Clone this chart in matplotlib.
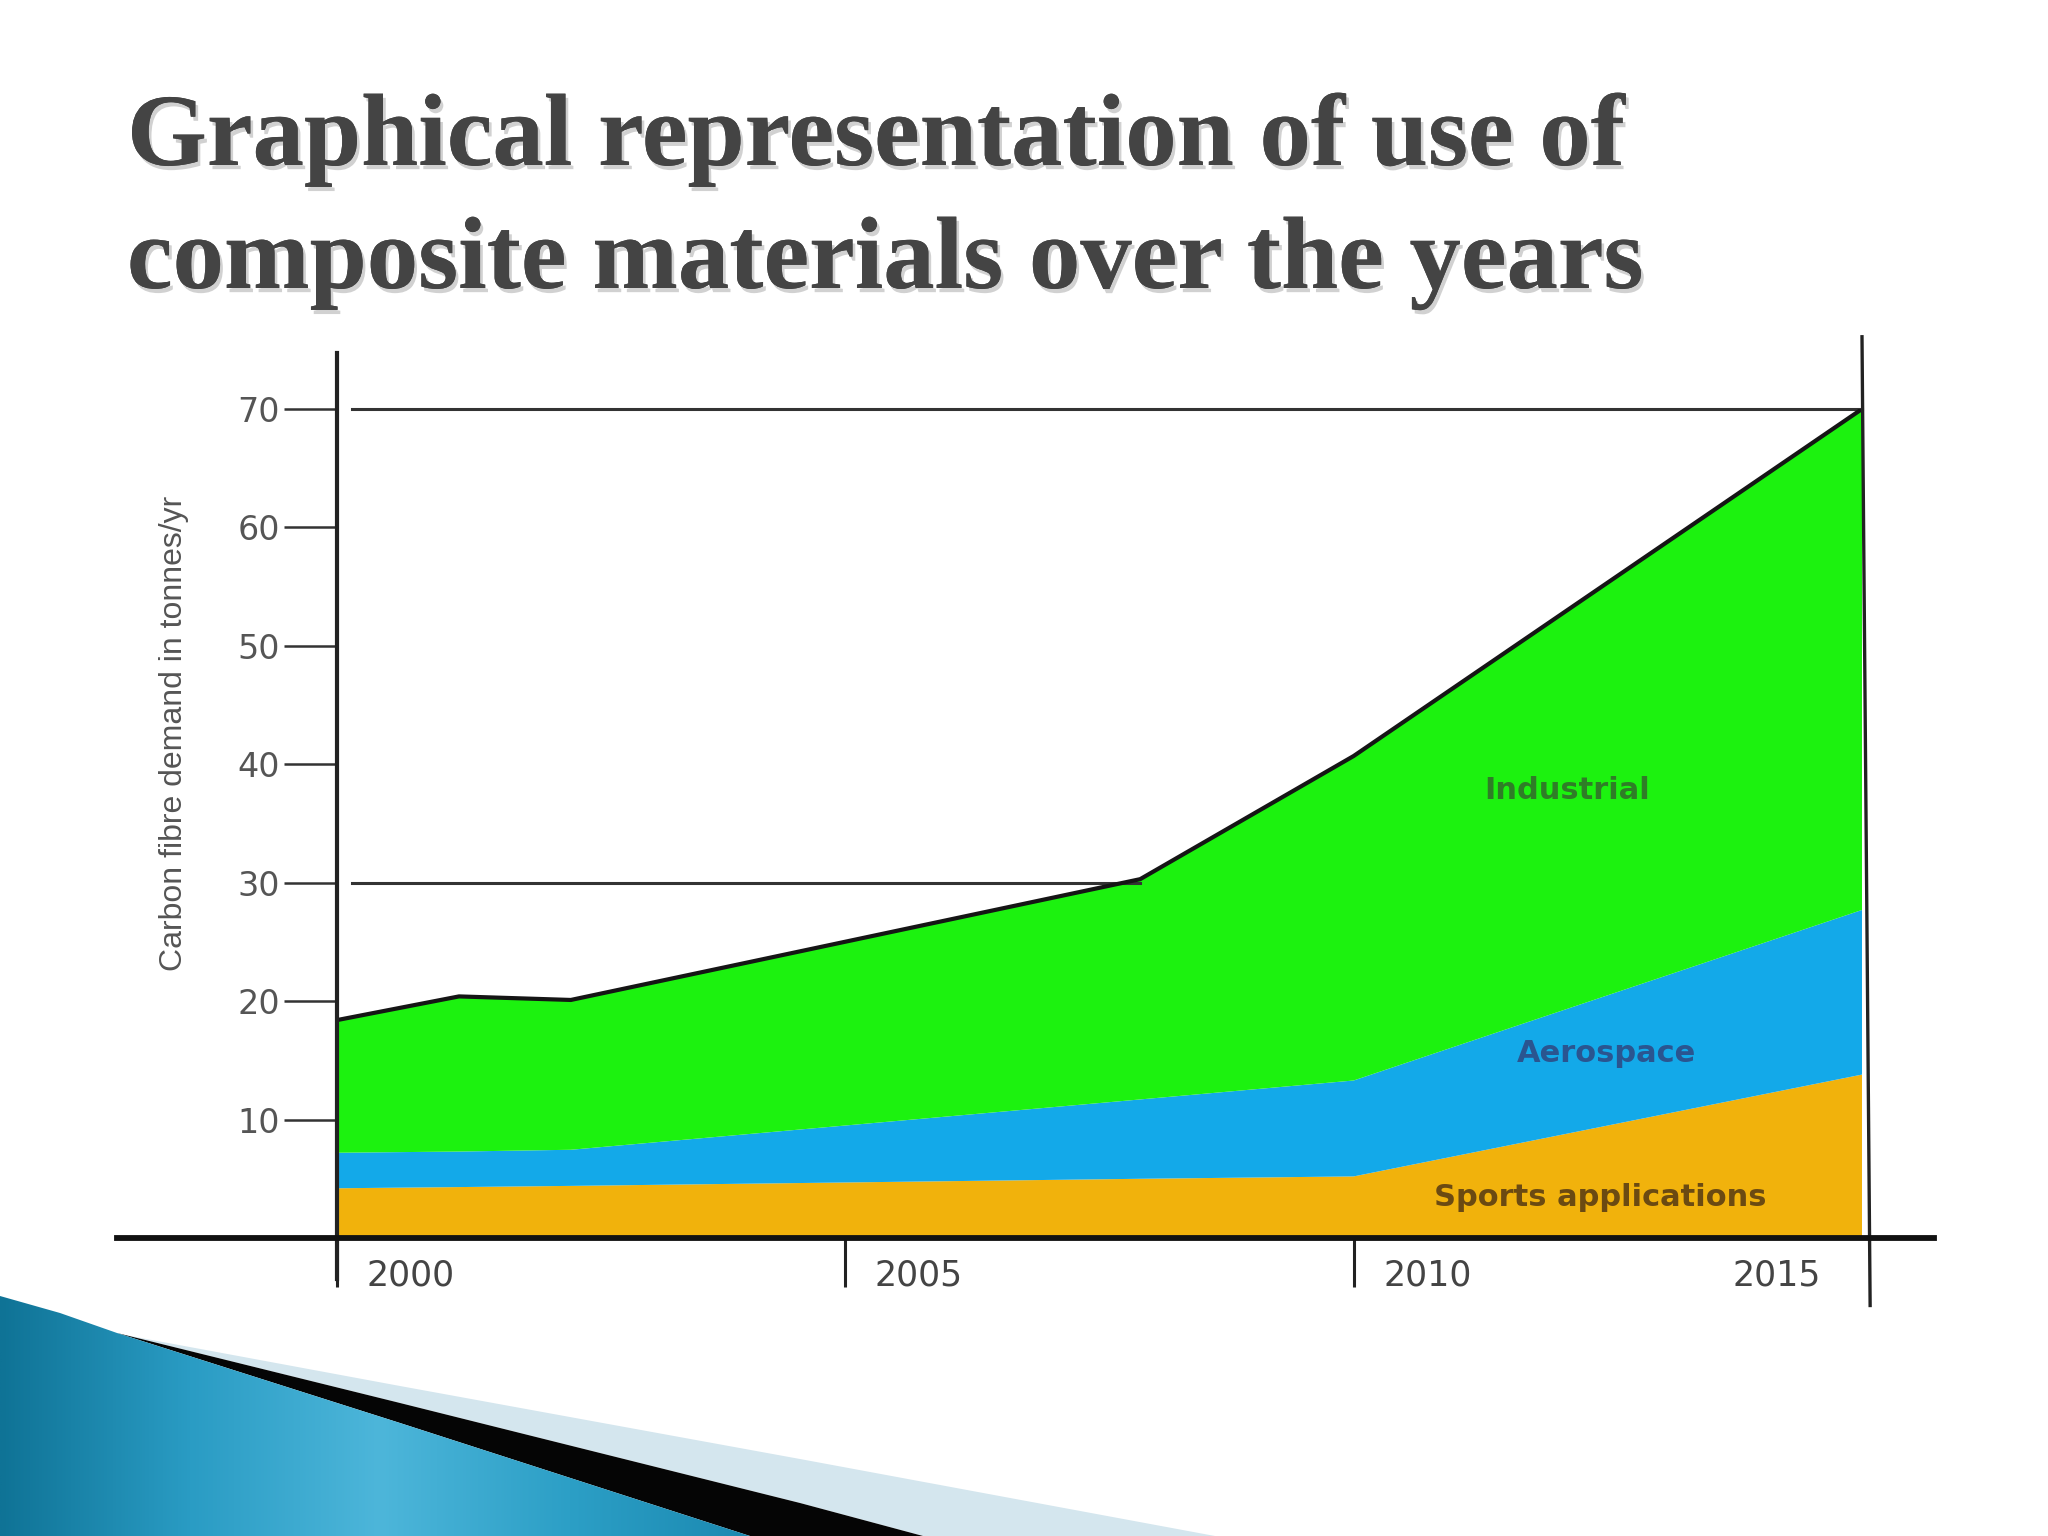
import numpy as np
import matplotlib
matplotlib.use("Agg")
import matplotlib.pyplot as plt
import matplotlib.patheffects as pe
from matplotlib.patches import Polygon
from matplotlib.colors import LinearSegmentedColormap

# ---------------- data ----------------
years = [2000, 2001.2, 2002.3, 2007.9, 2010, 2015]
sports = [4.2, 4.3, 4.4, 5.0, 5.2, 13.8]
aerospace = [3.0, 3.0, 3.05, 6.7, 8.1, 13.9]
industrial = [11.2, 13.1, 12.65, 18.6, 27.4, 42.3]
total = [s + a + i for s, a, i in zip(sports, aerospace, industrial)]

y_ticks = [10, 20, 30, 40, 50, 60, 70]
x_ticks = [2000, 2005, 2010]
x_labels = ["2000", "2005", "2010", "2015"]
x_label_years = [2000, 2005, 2010, 2015]
series_names = ["Sports applications", "Aerospace", "Industrial"]
colors = ["#F1B20C", "#13A9E9", "#1CF20F"]
label_colors = ["#6b4a12", "#2a5590", "#2f7d27"]
label_pos = [(2012.43, 3.4), (2012.49, 15.6), (2012.1, 37.8)]
ref_levels = [70, 30]
ref_ends = [2015, 2007.9]

title_lines = ["Graphical representation of use of",
               "composite materials over the years"]
ylabel = "Carbon fibre demand in tonnes/yr"

W, H = 2048, 1536
fig = plt.figure(figsize=(W / 100, H / 100), dpi=100)
fig.patch.set_facecolor("white")

# ---------------- background decoration ----------------
bg = fig.add_axes([0, 0, 1, 1])
bg.set_xlim(0, W)
bg.set_ylim(H, 0)
bg.axis("off")
bg.set_zorder(0)

blue_poly = [(0, 1296), (60, 1313), (117, 1333), (400, 1423), (750, 1536), (0, 1536)]
black_poly = [(117, 1333), (400, 1403), (800, 1503), (923, 1536), (750, 1536), (400, 1423)]
light_poly = [(125, 1335), (400, 1386), (800, 1459), (1215, 1536), (923, 1536),
              (800, 1503), (400, 1403), (117, 1333)]

light = Polygon(light_poly, closed=True, facecolor="#d4e6ee", edgecolor="none")
bg.add_patch(light)
blk = Polygon(black_poly, closed=True, facecolor="#050505", edgecolor="none")
bg.add_patch(blk)

cmap = LinearSegmentedColormap.from_list(
    "swoosh", ["#0f7396", "#2a9cc4", "#4db6da", "#2c9fc6", "#1a88b0"])
grad = np.linspace(0, 1, 512)[None, :]
grad = np.repeat(grad, 2, axis=0)
im = bg.imshow(grad, cmap=cmap, extent=[0, 760, 1536, 1290], aspect="auto", zorder=1)
bpatch = Polygon(blue_poly, closed=True, facecolor="none", edgecolor="none")
bg.add_patch(bpatch)
im.set_clip_path(bpatch)

# ---------------- title ----------------
shadow = [pe.withSimplePatchShadow(offset=(2, -3), shadow_rgbFace="#9a9a9a", alpha=0.45), pe.Normal()]
fig.text(127 / W, 1 - 165 / H, title_lines[0], fontsize=74, fontweight="bold",
         family=["Liberation Serif", "DejaVu Serif"], color="#444444",
         ha="left", va="baseline", path_effects=shadow)
fig.text(127 / W, 1 - 288 / H, title_lines[1], fontsize=74, fontweight="bold",
         family=["Liberation Serif", "DejaVu Serif"], color="#444444",
         ha="left", va="baseline", path_effects=shadow)

# ---------------- chart ----------------
ax = fig.add_axes([337 / W, 1 - 1238 / H, (1862 - 337) / W, (1238 - 409) / H])
ax.set_zorder(2)
ax.patch.set_alpha(0)
ax.set_xlim(2000, 2015)
ax.set_ylim(0, 70)
for sp in ax.spines.values():
    sp.set_visible(False)

ax.stackplot(years, sports, aerospace, industrial, colors=colors, linewidth=0, zorder=2)
ax.plot(years, total, color="#151515", lw=3.0, zorder=4, solid_joinstyle="round")

# axes lines
ax.plot([2000, 2000], [-3.5, 74.7], color="#222222", lw=3.0, clip_on=False, zorder=5)
ax.plot([2015, 2015.08], [76.1, -5.7], color="#222222", lw=2.4, clip_on=False, zorder=5)
ax.plot([1997.84, 2015.71], [0, 0], color="#111111", lw=4.2, clip_on=False, zorder=5)
for lvl, xe in zip(ref_levels, ref_ends):
    ax.plot([2000.15, xe], [lvl, lvl], color="#333333", lw=2.2, clip_on=False, zorder=3)

# y ticks
ax.set_yticks(y_ticks)
ax.set_yticklabels([str(v) for v in y_ticks])
ax.tick_params(axis="y", length=38, width=1.8, color="#333333", pad=3,
               labelsize=24, labelcolor="#555555", direction="out")
# x ticks
ax.set_xticks(x_ticks)
ax.set_xticklabels([""] * len(x_ticks))
ax.tick_params(axis="x", length=35, width=2.2, color="#222222", direction="out")
for yr, lab in zip(x_label_years, x_labels):
    if yr < 2015:
        ax.text(yr + 0.29, -3.15, lab, fontsize=25, color="#444444", ha="left",
                va="center", clip_on=False)
    else:
        ax.text(yr - 0.40, -3.15, lab, fontsize=25, color="#444444", ha="right",
                va="center", clip_on=False)

# y label
ax.text(1998.40, 42.6, ylabel, rotation=90, fontsize=23, color="#555555",
        family=["Liberation Sans", "DejaVu Sans"], ha="center", va="center",
        clip_on=False)

# series labels
for name, (lx, ly), c in zip(series_names, label_pos, label_colors):
    ax.text(lx, ly, name, fontsize=22, fontweight="bold", color=c,
            ha="center", va="center", zorder=6)

fig.savefig("out.png", dpi=100, facecolor="white")
